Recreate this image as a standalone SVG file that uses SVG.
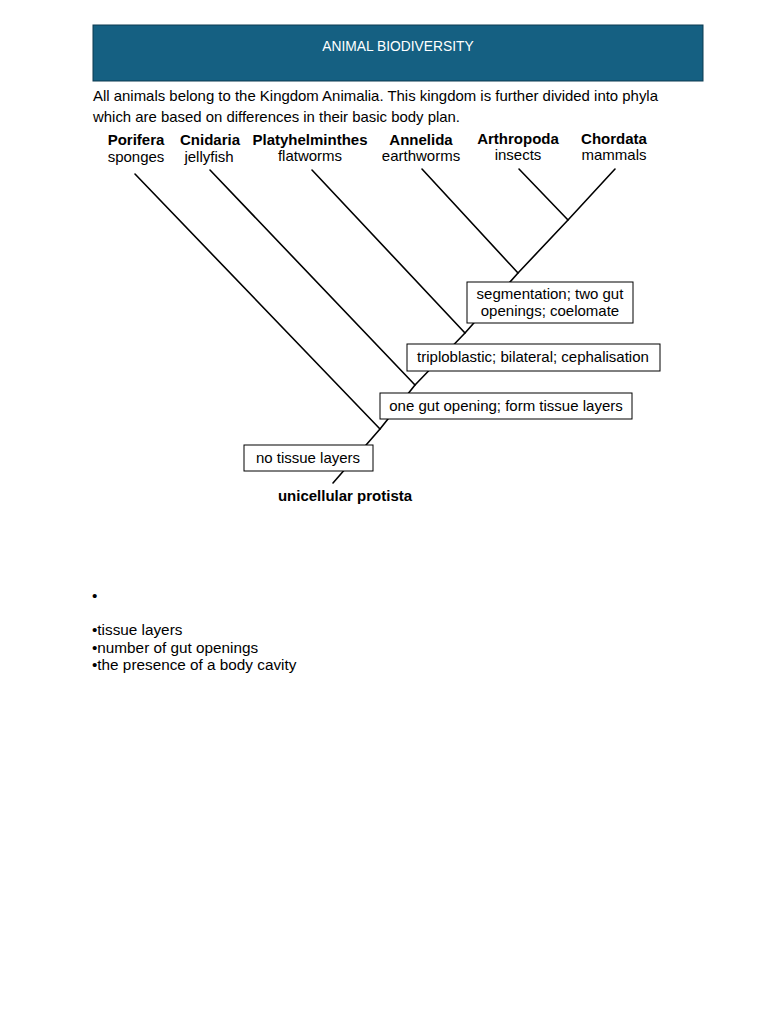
<svg xmlns="http://www.w3.org/2000/svg" width="768" height="1024" viewBox="0 0 768 1024">
<style>
.hdr{font-family:"Liberation Sans",Arial,sans-serif;font-size:13.8px;fill:#ffffff}
.para{font-family:"Liberation Sans",Arial,sans-serif;font-size:14.5px;fill:#000}
.name{font-family:"Liberation Sans",Arial,sans-serif;font-size:15px;font-weight:bold;fill:#000}
.common{font-family:"Liberation Sans",Arial,sans-serif;font-size:15px;fill:#000}
.box{fill:#fff;stroke:#000;stroke-width:1}
.bt{font-family:"Liberation Sans",Arial,sans-serif;font-size:15px;fill:#000}
.ln{fill:none;stroke:#000;stroke-width:1.6;stroke-linecap:round;stroke-linejoin:round}
.bul{font-family:"Liberation Sans",Arial,sans-serif;font-size:15.3px;fill:#000}
</style>
<rect width="768" height="1024" fill="#fff"/>
<g id="header">
<rect x="93" y="25" width="610" height="56" fill="#156082" stroke="#0d3a50" stroke-width="1"/>
<text class="hdr" x="398" y="51" text-anchor="middle">ANIMAL BIODIVERSITY</text>
</g>
<g id="intro">
<text class="para" x="93" y="101" textLength="565" lengthAdjust="spacingAndGlyphs">All animals belong to the Kingdom Animalia. This kingdom is further divided into phyla</text>
<text class="para" x="93" y="122" textLength="367" lengthAdjust="spacingAndGlyphs">which are based on differences in their basic body plan.</text>
</g>
<g id="connectors">
<polyline class="ln" points="333,483 380,429 415,385 465,333 518,273 568,220 615,169"/>
<line class="ln" x1="135" y1="174" x2="380" y2="429"/>
<line class="ln" x1="210" y1="170" x2="415" y2="385"/>
<line class="ln" x1="312" y1="170" x2="465" y2="333"/>
<line class="ln" x1="422" y1="169" x2="518" y2="273"/>
<line class="ln" x1="519" y1="169" x2="568" y2="220"/>
</g>
<g id="porifera"><text class="name" x="136" y="145" text-anchor="middle">Porifera</text><text class="common" x="136" y="162" text-anchor="middle">sponges</text></g>
<g id="cnidaria"><text class="name" x="210" y="145" text-anchor="middle">Cnidaria</text><text class="common" x="209" y="162" text-anchor="middle">jellyfish</text></g>
<g id="platyhelminthes"><text class="name" x="310" y="145" text-anchor="middle">Platyhelminthes</text><text class="common" x="310" y="161" text-anchor="middle">flatworms</text></g>
<g id="annelida"><text class="name" x="421" y="145" text-anchor="middle">Annelida</text><text class="common" x="421" y="161" text-anchor="middle">earthworms</text></g>
<g id="arthropoda"><text class="name" x="518" y="144" text-anchor="middle">Arthropoda</text><text class="common" x="518" y="160" text-anchor="middle">insects</text></g>
<g id="chordata"><text class="name" x="614" y="144" text-anchor="middle">Chordata</text><text class="common" x="614" y="160" text-anchor="middle">mammals</text></g>
<g id="segmentation"><rect class="box" x="467" y="282" width="166" height="41"/><text class="bt" x="550" y="299" text-anchor="middle">segmentation; two gut</text><text class="bt" x="550" y="316" text-anchor="middle">openings; coelomate</text></g>
<g id="triploblastic"><rect class="box" x="407" y="344" width="253" height="27"/><text class="bt" x="533" y="362" text-anchor="middle">triploblastic; bilateral; cephalisation</text></g>
<g id="onegut"><rect class="box" x="380" y="393" width="252" height="26"/><text class="bt" x="506" y="411" text-anchor="middle">one gut opening; form tissue layers</text></g>
<g id="notissue"><rect class="box" x="244" y="445" width="129" height="26"/><text class="bt" x="308" y="463" text-anchor="middle">no tissue layers</text></g>
<g id="protista"><text class="name" x="345" y="501" text-anchor="middle">unicellular protista</text></g>
<g id="bullets">
<text class="bul" x="92" y="601">•</text>
<text class="bul" x="92" y="635">•tissue layers</text>
<text class="bul" x="92" y="653">•number of gut openings</text>
<text class="bul" x="92" y="670">•the presence of a body cavity</text>
</g>
</svg>
